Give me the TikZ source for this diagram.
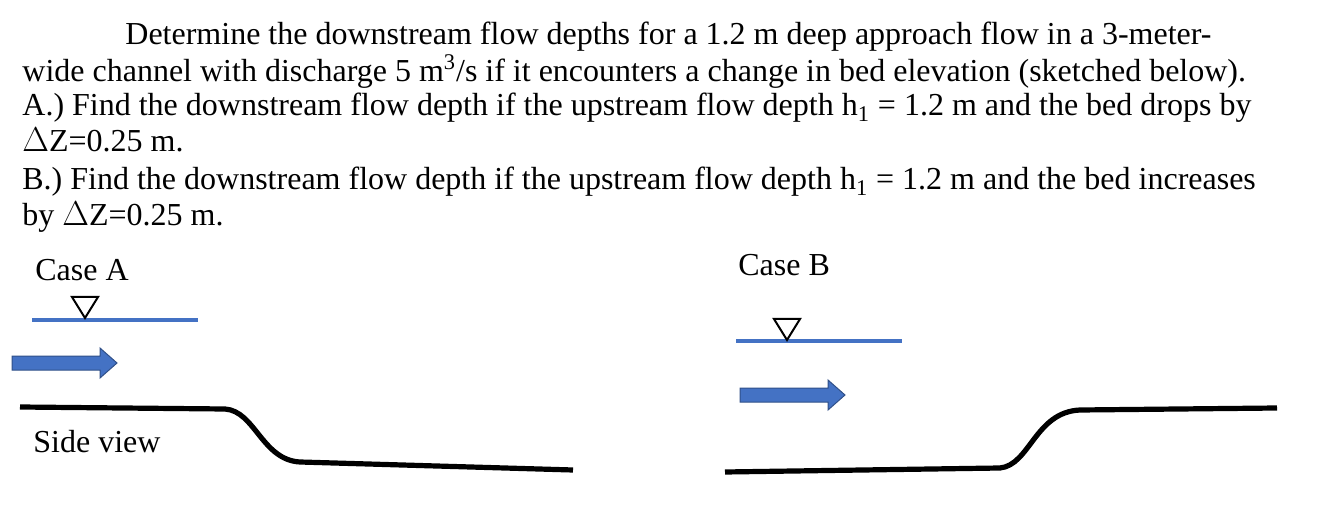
\documentclass[tikz,border=0pt]{standalone}
\usepackage{fontspec}
\setmainfont{Liberation Serif}
\definecolor{wblue}{HTML}{4472C4}
\begin{document}
\begin{tikzpicture}[x=0.5pt,y=-0.5pt,
  txt/.style={anchor=base west,inner sep=0pt,font=\fontsize{16}{18}\selectfont},
  water/.style={draw=wblue,line width=2pt},
  bed/.style={draw=black,line width=2.6pt},
  tri/.style={draw=black,line width=1pt},
  flowarrow/.style={fill=wblue,draw=wblue!70!black,line width=0.5pt}]
\useasboundingbox (0,0) rectangle (1330,524);
\node[txt] (l1) at (125,45) {Determine the downstream flow depths for a 1.2 m deep approach flow in a 3-meter-};
\node[txt] (l2) at (22,82) {wide channel with discharge 5 m\textsuperscript{3}/s if it encounters a change in bed elevation (sketched below).};
\node[txt] (l3) at (22,116) {A.) Find the downstream flow depth if the upstream flow depth h\textsubscript{1} = 1.2 m and the bed drops by};
\node[txt] (l4) at (22,152) {$\Delta$Z=0.25 m.};
\node[txt] (l5) at (22,190) {B.) Find the downstream flow depth if the upstream flow depth h\textsubscript{1} = 1.2 m and the bed increases};
\node[txt] (l6) at (22,226) {by $\Delta$Z=0.25 m.};
\node[txt] (ca) at (35,280) {Case A};
\node[txt] (cb) at (738,276) {Case B};
\node[txt] (sv) at (33,452) {Side view};
% Case A
\draw[water] (32,320) -- (198,320);
\draw[tri] (72,297) -- (98,297) -- (85,318) -- cycle;
\draw[flowarrow] (12,356) -- (100,356) -- (100,348) -- (117,363) -- (100,378) -- (100,370) -- (12,370) -- cycle;
\draw[bed] (20,407) -- (225,409) .. controls (255,411) and (262,460) .. (300,462) -- (573,470);
% Case B
\draw[water] (736,341) -- (902,341);
\draw[tri] (774,319) -- (800,319) -- (787,340) -- cycle;
\draw[flowarrow] (740,388) -- (828,388) -- (828,380) -- (845,395) -- (828,410) -- (828,402) -- (740,402) -- cycle;
\draw[bed] (725,472) -- (1000,468) .. controls (1030,465) and (1035,412) .. (1080,410) -- (1277,408);
\end{tikzpicture}
\end{document}
